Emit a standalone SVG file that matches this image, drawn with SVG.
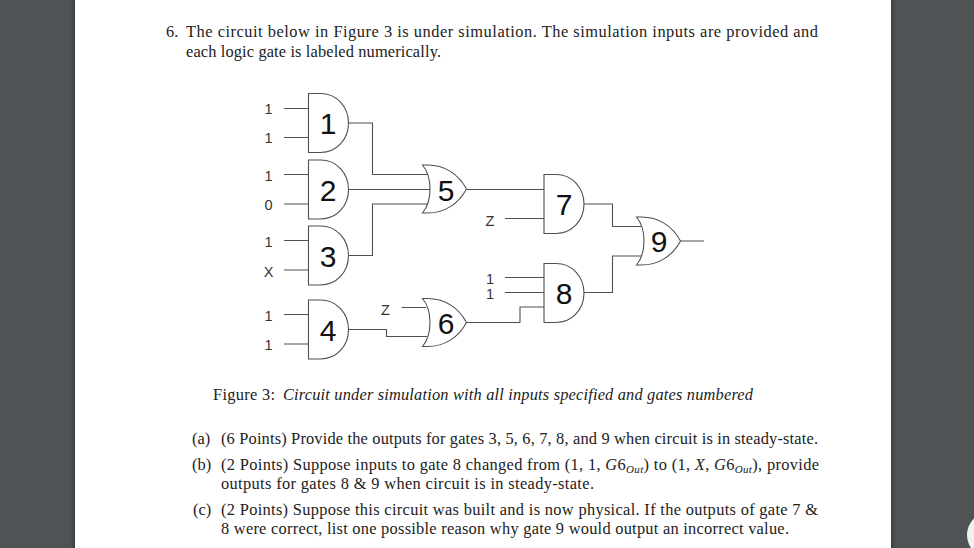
<svg xmlns="http://www.w3.org/2000/svg" width="974" height="548" viewBox="0 0 974 548">
<style>
.w{fill:none;stroke:#4f4f4f;stroke-width:1.1}
.g{fill:#fff;stroke:#4f4f4f;stroke-width:1.1}
.s{font-family:"Liberation Sans",Arial,sans-serif;font-size:14.5px;fill:#333;text-anchor:middle}
.n{font-family:"Liberation Sans",Arial,sans-serif;font-size:30px;fill:#111;text-anchor:middle}
.t{font-family:"Liberation Serif","Times New Roman",serif;font-size:16.4px;fill:#222}
.i{font-style:italic}
.u{font-size:11px;font-style:italic}
</style>
<defs>
<linearGradient id="lb" x1="0" x2="1" y1="0" y2="0"><stop offset="0" stop-color="#3d4042"/><stop offset="1" stop-color="#505355"/></linearGradient>
<linearGradient id="rb" x1="0" x2="1" y1="0" y2="0"><stop offset="0" stop-color="#505355"/><stop offset="1" stop-color="#3d4042"/></linearGradient>
<path id="and" class="g" d="M0 0H12C28 0 40 13 40 29.5S28 59 12 59H0Z"/>
<path id="or" class="g" d="M0 0H5C22 0 36 9 44 24C36 39 22 48 5 48H0C10 36 10 12 0 0Z"/>
</defs>
<rect width="974" height="548" fill="#fff"/>
<rect x="0" y="0" width="75" height="548" fill="#505355"/>
<rect x="70" y="0" width="5" height="548" fill="url(#rb)"/>
<rect x="891" y="0" width="83" height="548" fill="#505355"/>
<rect x="891" y="0" width="5" height="548" fill="url(#lb)"/>
<circle cx="990" cy="535" r="23" fill="#f1f1f1"/>

<g id="connectors">
<path class="w" d="M284 108.500H308M284 137.500H308M284 174.500H308M284 204H308M284 240.500H308M284 270H308M284 314.500H308M284 344H308"/>
<path class="w" d="M348 123H372.500V174.500H427M348 189.500H431M348 255.500H372.500V204H427"/>
<path class="w" d="M348 329.500H386.500V336.500H427M401.500 307.500H426"/>
<path class="w" d="M467 189.500H544M505 218.500H544M505 277.500H544M505 292.500H544M467 322.500H520V307H544"/>
<path class="w" d="M584 204H612.500V226.500H641M584 292.500H612.500V256H641M680 241H704"/>
</g>

<g id="gate1"><use href="#and" x="308.500" y="93.500"/><text class="n" x="328" y="134">1</text></g>
<g id="gate2"><use href="#and" x="308.500" y="160"/><text class="n" x="328" y="201">2</text></g>
<g id="gate3"><use href="#and" x="308.500" y="226"/><text class="n" x="328" y="267">3</text></g>
<g id="gate4"><use href="#and" x="308.500" y="300"/><text class="n" x="328" y="341">4</text></g>
<g id="gate5"><use href="#or" x="422.500" y="165"/><text class="n" x="446" y="201">5</text></g>
<g id="gate6"><use href="#or" x="422.500" y="298.500"/><text class="n" x="446" y="334">6</text></g>
<g id="gate7"><use href="#and" x="544" y="174.500"/><text class="n" x="564" y="215">7</text></g>
<g id="gate8"><use href="#and" x="544" y="263.500"/><text class="n" x="564" y="304">8</text></g>
<g id="gate9"><use href="#or" x="636.500" y="217"/><text class="n" x="659" y="252">9</text></g>

<g id="inputs">
<text class="s" x="268.500" y="114">1</text>
<text class="s" x="268.500" y="143">1</text>
<text class="s" x="268.500" y="181">1</text>
<text class="s" x="268.500" y="210">0</text>
<text class="s" x="268.500" y="247">1</text>
<text class="s" x="268.500" y="277">X</text>
<text class="s" x="268.500" y="321">1</text>
<text class="s" x="268.500" y="350">1</text>
<text class="s" x="385.500" y="315">Z</text>
<text class="s" x="490" y="226">Z</text>
<text class="s" x="490" y="284">1</text>
<text class="s" x="490" y="299">1</text>
</g>

<g id="text">
<text class="t" x="166" y="37">6.</text>
<text class="t" x="186" y="37" textLength="632" lengthAdjust="spacing">The circuit below in Figure 3 is under simulation.  The simulation inputs are provided and</text>
<text class="t" x="186" y="57" textLength="255" lengthAdjust="spacing">each logic gate is labeled numerically.</text>
<text class="t" x="213" y="400" textLength="62" lengthAdjust="spacing">Figure 3:</text>
<text class="t i" x="283" y="400" textLength="470" lengthAdjust="spacing">Circuit under simulation with all inputs specified and gates numbered</text>
<text class="t" x="192" y="444">(a)</text>
<text class="t" x="221" y="444" textLength="597" lengthAdjust="spacing">(6 Points) Provide the outputs for gates 3, 5, 6, 7, 8, and 9 when circuit is in steady-state.</text>
<text class="t" x="192" y="470">(b)</text>
<text class="t" x="221" y="470" textLength="598" lengthAdjust="spacing">(2 Points) Suppose inputs to gate 8 changed from (1, 1, <tspan class="i">G</tspan>6<tspan class="u" dy="3">Out</tspan><tspan dy="-3">) to (1, </tspan><tspan class="i">X</tspan>, <tspan class="i">G</tspan>6<tspan class="u" dy="3">Out</tspan><tspan dy="-3">), provide</tspan></text>
<text class="t" x="221" y="489" textLength="373" lengthAdjust="spacing">outputs for gates 8 &amp; 9 when circuit is in steady-state.</text>
<text class="t" x="193" y="515">(c)</text>
<text class="t" x="221" y="515" textLength="597" lengthAdjust="spacing">(2 Points) Suppose this circuit was built and is now physical. If the outputs of gate 7 &amp;</text>
<text class="t" x="221" y="534" textLength="568" lengthAdjust="spacing">8 were correct, list one possible reason why gate 9 would output an incorrect value.</text>
</g>
</svg>
